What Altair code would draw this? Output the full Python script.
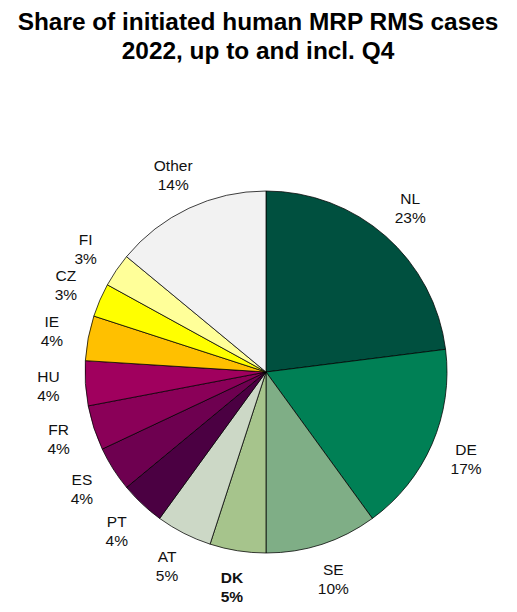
import pandas as pd
import altair as alt

# Share of initiated human MRP RMS cases, 2022 up to and incl. Q4
countries = ["NL", "DE", "SE", "DK", "AT", "PT", "ES", "FR", "HU", "IE", "CZ", "FI", "Other"]
shares = [23, 17, 10, 5, 5, 4, 4, 4, 4, 4, 3, 3, 14]
title_lines = ["Share of initiated human MRP RMS cases", "2022, up to and incl. Q4"]

palette = ["#00503F", "#008055", "#7FAE86", "#A6C48C", "#CCD8C6", "#4B0042", "#6E0050",
           "#8A0058", "#A0005E", "#FFC000", "#FFFF00", "#FFFF99", "#F2F2F2"]

df = pd.DataFrame({"country": countries, "share": shares})
df["idx"] = range(len(df))
df["label"] = df["country"] + "\n" + df["share"].astype(str) + "%"

theta_scale = alt.Scale(domain=[0, 100])

pie = alt.Chart(df).mark_arc(outerRadius=181, stroke="black", strokeWidth=0.75).encode(
    theta=alt.Theta("share:Q", stack=True, scale=theta_scale),
    order=alt.Order("idx:Q"),
    color=alt.Color("country:N", scale=alt.Scale(domain=countries, range=palette), legend=None),
)

# label angle = middle of each slice, worked out before DK is split off
label_base = alt.Chart(df).transform_window(
    cum="sum(share)", sort=[alt.SortField("idx")]
).transform_calculate(
    mid="datum.cum - datum.share / 2"
).encode(
    theta=alt.Theta("mid:Q", stack=False, scale=theta_scale),
    text="label:N",
)

# dy pulls the two-line block up so that its middle sits on the radius
text_style = dict(radius=218, dy=-9, font="Liberation Sans", fontSize=15.5, lineBreak="\n",
                  lineHeight=19, color="#111111")

labels = label_base.mark_text(**text_style).transform_filter(alt.datum.country != "DK")
dk_label = label_base.mark_text(fontWeight="bold", **text_style).transform_filter(
    alt.datum.country == "DK")

title = alt.Chart(pd.DataFrame({"t": ["\n".join(title_lines)]})).mark_text(
    font="Liberation Sans", fontSize=24.4, fontWeight="bold", lineBreak="\n", lineHeight=29,
    align="center", baseline="middle", color="black"
).encode(text="t:N", x=alt.value(232), y=alt.value(-149))

chart = alt.layer(pie, labels, dk_label, title).properties(
    width=480,
    height=400,
    autosize="none",
    padding={"left": 18, "top": 164, "right": 0, "bottom": 32},
).configure_view(stroke=None)

chart.save("out.html", embed_options={"renderer": "svg", "actions": False})
